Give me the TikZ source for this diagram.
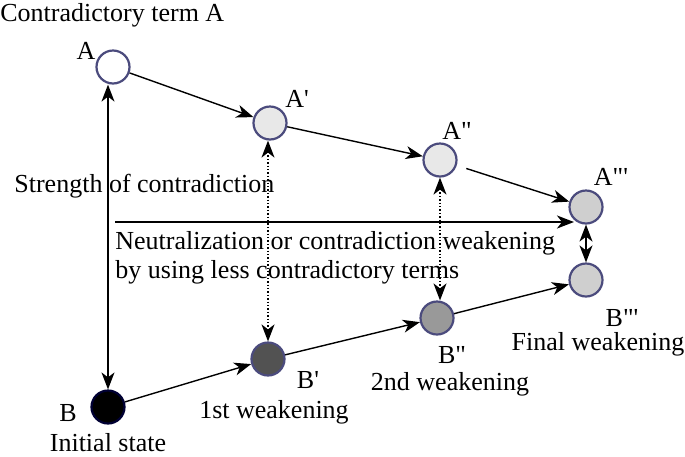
\documentclass[tikz,border=0pt]{standalone}
\usepackage{fontspec}
\setmainfont{Liberation Serif}[Ligatures=TeXOff]
\usetikzlibrary{arrows.meta}

\definecolor{rim}{RGB}{75,75,125}
\tikzset{
  term/.style={draw=rim, line width=1.1pt, circle, minimum size=16.5pt, inner sep=0pt},
  tip/.tip={Stealth[length=8.5pt,width=6.5pt,inset=2.5pt]},
  move/.style={-tip, line width=0.7pt},
  link/.style={tip-tip, line width=0.7pt},
  txt/.style={font=\fontsize{13}{15.6}\selectfont, inner sep=0pt}
}

\begin{document}
\begin{tikzpicture}[x=0.5pt,y=-0.5pt]
\useasboundingbox (0,0) rectangle (685,456);
% title
\node[txt, anchor=west] (title) at (0,15) {Contradictory term A};
% contradictory terms A (upper row)
\node[term, fill=white] (a0) at (113,67) {};
\node[term, fill=gray!18] (a1) at (270,123) {};
\node[term, fill=gray!18] (a2) at (440,160) {};
\node[term, fill=gray!38] (a3) at (586,207) {};
% terms B (lower row)
\node[term, draw=black!80!blue, fill=black] (b0) at (108,407) {};
\node[term, fill=black!68] (b1) at (268,359) {};
\node[term, fill=black!40] (b2) at (437,318) {};
\node[term, fill=gray!38] (b3) at (586,280) {};
% labels of the terms
\node[txt] (la0) at (86,51) {A};
\node[txt] (la1) at (297,99) {A'};
\node[txt] (la2) at (457,131) {A"};
\node[txt] (la3) at (611,177) {A"'};
\node[txt] (lb0) at (68,413) {B};
\node[txt] (lb1) at (308,380) {B'};
\node[txt] (lb2) at (452,355) {B"};
\node[txt] (lb3) at (622,318) {B"'};
\node[txt] (sb0) at (108,443) {Initial state};
\node[txt] (sb1) at (274,412) {1st weakening};
\node[txt] (sb2) at (450,384) {2nd weakening};
\node[txt] (sb3) at (598,344) {Final weakening};
% weakening steps
\draw[move] (a0) -- (a1);
\draw[move] (a1) -- (a2);
\draw[move, shorten <=5pt] (a2) -- (a3);
\draw[move] (b0) -- (b1);
\draw[move] (b1) -- (b2);
\draw[move] (b2) -- (b3);
% strength of contradiction
\draw[link] (b0 |- a0.south) -- (b0.north);
\draw[link, densely dotted] (b1 |- a1.south) -- (b1.north);
\draw[link, densely dotted] (a2.south) -- (a2.south |- b2.north);
\draw[link] (a3) -- (b3);
\node[txt, anchor=west] (strength) at (14,186) {Strength of contradiction};
% neutralization
\coordinate (nstart) at (115,222);
\coordinate (nend) at (574,222);
\draw[-tip, line width=1pt] (nstart) -- (nend);
\node[txt, anchor=west] (neutral) at (115,243) {Neutralization or contradiction weakening};
\node[txt, anchor=west] (using) at (115,272) {by using less contradictory terms};
\end{tikzpicture}
\end{document}
